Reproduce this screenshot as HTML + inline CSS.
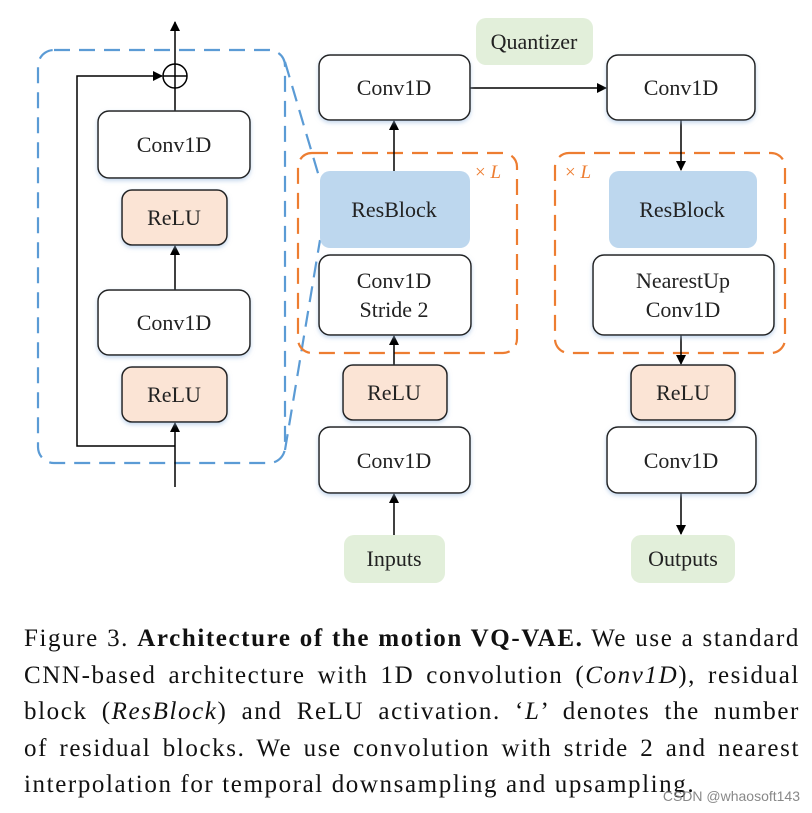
<!DOCTYPE html>
<html><head><meta charset="utf-8"><style>
body{margin:0;width:812px;height:813px;background:#fff;overflow:hidden;position:relative;font-family:"Liberation Serif",serif}
.cap{position:absolute;left:24px;width:776px;font-size:25px;color:#111;line-height:36.5px;top:621px;letter-spacing:1.6px}
.cap div{text-align:justify;text-align-last:justify;white-space:nowrap}
.cap div.l{text-align-last:left}
.wm{position:absolute;right:12px;top:788px;font-family:"Liberation Sans",sans-serif;font-size:14px;color:#888}
</style></head><body>
<svg width="812" height="813" style="position:absolute;left:0;top:0" font-family="Liberation Serif, serif" font-size="22">
<defs><marker id="a" markerWidth="10" markerHeight="10" refX="9" refY="5" orient="auto" markerUnits="userSpaceOnUse"><path d="M0,0 L10,5 L0,10z" fill="#000"/></marker>
<filter id="s"><feDropShadow dx="0" dy="2" stdDeviation="2" flood-color="#9bbbe0" flood-opacity="0.6"/></filter></defs>
<g fill="none" stroke-dasharray="16,9" stroke-width="2.2">
<rect x="38" y="50" width="247" height="413" rx="16" stroke="#5b9bd5"/>
<line x1="285" y1="62" x2="320" y2="180" stroke="#5b9bd5"/>
<line x1="285" y1="450" x2="320" y2="240" stroke="#5b9bd5"/>
<rect x="298" y="153" width="219" height="200" rx="14" stroke="#ed7d31"/>
<rect x="555" y="153" width="230" height="200" rx="14" stroke="#ed7d31"/>
</g>
<g stroke="#000" stroke-width="1.5" fill="none">
<line x1="175" y1="111" x2="175" y2="22" marker-end="url(#a)"/>
<circle cx="175" cy="76" r="12" fill="#fff"/>
<line x1="163" y1="76" x2="187" y2="76"/>
<line x1="175" y1="64" x2="175" y2="88"/>
<polyline points="175,446 77,446 77,76 162,76" marker-end="url(#a)"/>
<line x1="175" y1="487" x2="175" y2="423" marker-end="url(#a)"/>
<line x1="175" y1="290" x2="175" y2="246" marker-end="url(#a)"/>
<line x1="394" y1="171" x2="394" y2="121" marker-end="url(#a)"/>
<line x1="394" y1="365" x2="394" y2="336" marker-end="url(#a)"/>
<line x1="394" y1="535" x2="394" y2="494" marker-end="url(#a)"/>
<line x1="470" y1="88" x2="606" y2="88" marker-end="url(#a)"/>
<line x1="681" y1="120" x2="681" y2="170" marker-end="url(#a)"/>
<line x1="681" y1="335" x2="681" y2="364" marker-end="url(#a)"/>
<line x1="681" y1="493" x2="681" y2="534" marker-end="url(#a)"/>
</g>
<g stroke="#222" stroke-width="1.5" filter="url(#s)">
<rect x="98" y="111" width="152" height="67" rx="11" fill="#fff"/>
<rect x="122" y="190" width="105" height="55" rx="10" fill="#fbe4d5"/>
<rect x="98" y="290" width="152" height="65" rx="11" fill="#fff"/>
<rect x="122" y="367" width="105" height="55" rx="10" fill="#fbe4d5"/>
<rect x="319" y="55" width="151" height="65" rx="11" fill="#fff"/>
<rect x="319" y="255" width="152" height="80" rx="11" fill="#fff"/>
<rect x="343" y="365" width="104" height="55" rx="10" fill="#fbe4d5"/>
<rect x="319" y="427" width="151" height="66" rx="11" fill="#fff"/>
<rect x="607" y="55" width="148" height="65" rx="11" fill="#fff"/>
<rect x="593" y="255" width="181" height="80" rx="11" fill="#fff"/>
<rect x="631" y="365" width="104" height="55" rx="10" fill="#fbe4d5"/>
<rect x="607" y="427" width="149" height="66" rx="11" fill="#fff"/>
</g>
<g stroke="none">
<rect x="320" y="171" width="150" height="77" rx="10" fill="#bdd7ee"/>
<rect x="609" y="171" width="148" height="77" rx="10" fill="#bdd7ee"/>
<rect x="476" y="18" width="117" height="47" rx="10" fill="#e2efda"/>
<rect x="344" y="535" width="101" height="48" rx="10" fill="#e2efda"/>
<rect x="631" y="535" width="104" height="48" rx="10" fill="#e2efda"/>
</g>
<g fill="#222" text-anchor="middle">
<text x="174" y="152">Conv1D</text>
<text x="174" y="225">ReLU</text>
<text x="174" y="330">Conv1D</text>
<text x="174" y="402">ReLU</text>
<text x="394" y="95">Conv1D</text>
<text x="394" y="217">ResBlock</text>
<text x="394" y="288">Conv1D</text>
<text x="394" y="317">Stride 2</text>
<text x="394" y="400">ReLU</text>
<text x="394" y="468">Conv1D</text>
<text x="394" y="566">Inputs</text>
<text x="534" y="49">Quantizer</text>
<text x="681" y="95">Conv1D</text>
<text x="682" y="217">ResBlock</text>
<text x="683" y="288">NearestUp</text>
<text x="683" y="317">Conv1D</text>
<text x="683" y="400">ReLU</text>
<text x="681" y="468">Conv1D</text>
<text x="683" y="566">Outputs</text>
</g>
<g fill="#ed7d31" font-size="19">
<text x="475" y="178">× <tspan font-style="italic">L</tspan></text>
<text x="565" y="178">× <tspan font-style="italic">L</tspan></text>
</g>
</svg>
<div class="cap">
<div>Figure 3. <b>Architecture of the motion VQ-VAE.</b> We use a standard</div>
<div>CNN-based architecture with 1D convolution (<i>Conv1D</i>), residual</div>
<div>block (<i>ResBlock</i>) and ReLU activation. ‘<i>L</i>’ denotes the number</div>
<div>of residual blocks. We use convolution with stride 2 and nearest</div>
<div class="l">interpolation for temporal downsampling and upsampling.</div>
</div>
<div class="wm">CSDN @whaosoft143</div>
</body></html>
